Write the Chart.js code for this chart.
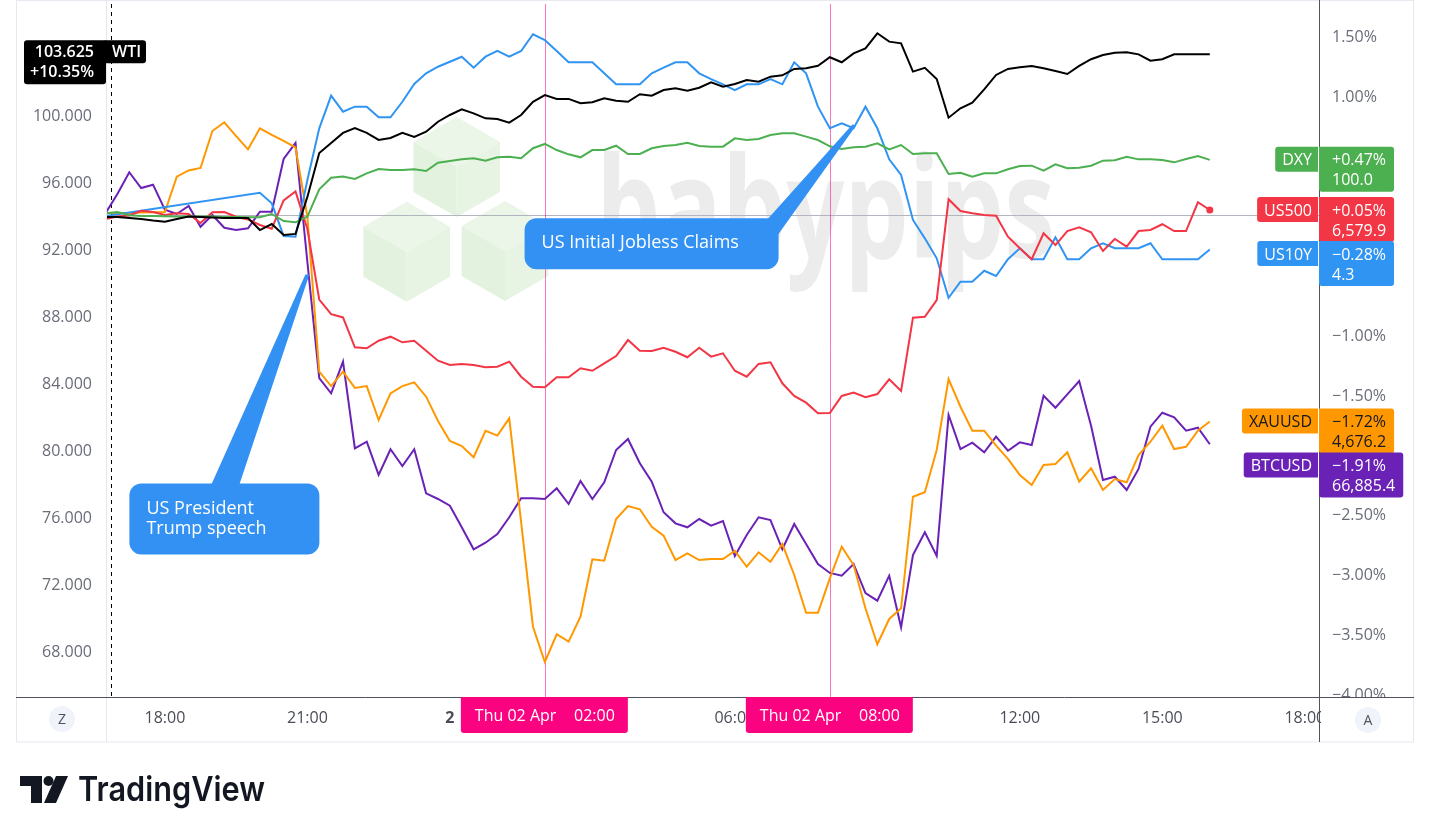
<!DOCTYPE html>
<html>
<head>
<meta charset="utf-8">
<title>WTI vs DXY, US500, US10Y, XAUUSD, BTCUSD</title>
<script src="https://cdn.jsdelivr.net/npm/chart.js@4.4.1/dist/chart.umd.min.js"></script>
<style>
  html, body { margin: 0; padding: 0; background: #fff; overflow: hidden; }
  #wrap { width: 1430px; height: 836px; }
  canvas { display: block; }
</style>
</head>
<body>
<div id="wrap"><canvas id="chart" width="1430" height="836"></canvas></div>
<script>
// 15-minute bars, 1 Apr 16:45 -> 2 Apr 16:00
const times = [
  '16:45', '17:00', '17:15', '17:30', '17:45', '18:00', '18:15', '18:30', '18:45', '19:00',
  '19:15', '19:30', '19:45', '20:00', '20:15', '20:30', '20:45', '21:00', '21:15', '21:30',
  '21:45', '22:00', '22:15', '22:30', '22:45', '23:00', '23:15', '23:30', '23:45', '00:00',
  '00:15', '00:30', '00:45', '01:00', '01:15', '01:30', '01:45', '02:00', '02:15', '02:30',
  '02:45', '03:00', '03:15', '03:30', '03:45', '04:00', '04:15', '04:30', '04:45', '05:00',
  '05:15', '05:30', '05:45', '06:00', '06:15', '06:30', '06:45', '07:00', '07:15', '07:30',
  '07:45', '08:00', '08:15', '08:30', '08:45', '09:00', '09:15', '09:30', '09:45', '10:00',
  '10:15', '10:30', '10:45', '11:00', '11:15', '11:30', '11:45', '12:00', '12:15', '12:30',
  '12:45', '13:00', '13:15', '13:30', '13:45', '14:00', '14:15', '14:30', '14:45', '15:00',
  '15:15', '15:30', '15:45', '16:00'
];

// WTI price (left scale)
const wti = [
  93.905, 93.91, 93.85, 93.79, 93.70, 93.63, 93.79, 93.94, 93.91, 93.88,
  93.85, 93.85, 93.85, 93.13, 93.49, 92.84, 92.90, 95.11, 97.73, 98.33,
  98.93, 99.22, 98.93, 98.51, 98.63, 98.93, 98.69, 99.00, 99.60, 100.00,
  100.34, 100.10, 99.80, 99.76, 99.54, 100.00, 100.79, 101.19, 100.96, 100.96,
  100.70, 100.76, 101.00, 100.85, 100.79, 101.24, 101.15, 101.49, 101.59, 101.45,
  101.63, 101.95, 101.69, 101.85, 102.09, 101.99, 102.29, 102.37, 102.75, 102.79,
  102.94, 103.45, 103.15, 103.68, 103.98, 104.88, 104.38, 104.28, 102.59, 102.82,
  102.15, 99.84, 100.40, 100.73, 101.53, 102.39, 102.75, 102.85, 102.93, 102.79,
  102.63, 102.45, 102.93, 103.33, 103.58, 103.72, 103.74, 103.62, 103.24, 103.33,
  103.62, 103.62, 103.62, 103.625
];

// % change from first bar (right scale)
const dxy = [
  0.023, 0.033, 0.006, 0, 0, -0.003, -0.004, -0.004, -0.004, -0.004,
  -0.008, -0.008, -0.011, -0.011, 0.017, -0.042, -0.053, -0.006, 0.223, 0.320,
  0.331, 0.310, 0.357, 0.393, 0.385, 0.385, 0.391, 0.377, 0.446, 0.460,
  0.474, 0.483, 0.463, 0.491, 0.496, 0.483, 0.567, 0.603, 0.552, 0.516,
  0.491, 0.552, 0.552, 0.588, 0.519, 0.519, 0.567, 0.586, 0.594, 0.613,
  0.586, 0.580, 0.580, 0.650, 0.636, 0.644, 0.678, 0.692, 0.692, 0.664,
  0.636, 0.583, 0.561, 0.575, 0.580, 0.608, 0.558, 0.594, 0.519, 0.525,
  0.525, 0.351, 0.362, 0.329, 0.357, 0.357, 0.391, 0.418, 0.421, 0.379,
  0.433, 0.399, 0.404, 0.421, 0.463, 0.466, 0.496, 0.474, 0.474, 0.469,
  0.449, 0.477, 0.502, 0.47
];

const us500 = [
  -0.025, -0.004, 0.004, 0.044, 0.033, 0.008, 0.023, 0.017, -0.059, 0.031,
  0.033, -0.006, -0.029, -0.075, -0.106, 0.131, 0.205, -0.109, -0.699, -0.822,
  -0.849, -1.099, -1.107, -1.044, -1.010, -1.057, -1.044, -1.127, -1.211, -1.247,
  -1.238, -1.247, -1.266, -1.261, -1.219, -1.345, -1.428, -1.433, -1.350, -1.350,
  -1.274, -1.295, -1.233, -1.172, -1.038, -1.127, -1.130, -1.102, -1.136, -1.182,
  -1.102, -1.177, -1.149, -1.295, -1.345, -1.238, -1.224, -1.400, -1.506, -1.562,
  -1.651, -1.649, -1.506, -1.477, -1.517, -1.490, -1.367, -1.464, -0.851, -0.843,
  -0.703, 0.140, 0.042, 0.023, 0.008, 0.003, -0.173, -0.270, -0.362, -0.145,
  -0.243, -0.126, -0.095, -0.136, -0.293, -0.192, -0.257, -0.126, -0.117, -0.069,
  -0.126, -0.126, 0.115, 0.05
];

const us10y = [
  0, null, null, null, null, null, null, null, null, null,
  null, null, null, 0.195, 0.106, -0.167, -0.173, 0.301, 0.734, 1.007,
  0.873, 0.915, 0.915, 0.826, 0.826, 0.956, 1.105, 1.194, 1.249, 1.291,
  1.333, 1.241, 1.333, 1.381, 1.333, 1.381, 1.521, 1.473, 1.381, 1.286,
  1.286, 1.286, 1.194, 1.102, 1.102, 1.102, 1.194, 1.241, 1.286, 1.286,
  1.194, 1.146, 1.102, 1.054, 1.102, 1.102, 1.146, 1.102, 1.286, 1.194,
  0.915, 0.734, 0.776, 0.734, 0.915, 0.734, 0.474, 0.343, -0.033, -0.187,
  -0.354, -0.684, -0.550, -0.550, -0.458, -0.502, -0.362, -0.270, -0.362, -0.362,
  -0.178, -0.362, -0.362, -0.270, -0.228, -0.270, -0.270, -0.270, -0.228, -0.362,
  -0.362, -0.362, -0.362, -0.28
];

const xauusd = [
  0.023, 0.025, 0.025, 0.029, 0.031, 0.033, 0.329, 0.381, 0.402, 0.711,
  0.784, 0.669, 0.558, 0.734, 0.678, 0.628, 0.575, -0.006, -1.303, -1.423,
  -1.303, -1.439, -1.423, -1.707, -1.484, -1.423, -1.392, -1.512, -1.715, -1.883,
  -1.925, -2.019, -1.797, -1.838, -1.693, -2.561, -3.437, -3.732, -3.500, -3.562,
  -3.353, -2.873, -2.885, -2.536, -2.427, -2.454, -2.600, -2.675, -2.879, -2.823,
  -2.879, -2.870, -2.870, -2.803, -2.935, -2.814, -2.893, -2.745, -3.004, -3.320,
  -3.320, -3.032, -2.767, -2.921, -3.283, -3.584, -3.372, -3.283, -2.349, -2.312,
  -1.958, -1.364, -1.596, -1.797, -1.797, -1.922, -2.033, -2.167, -2.251, -2.084,
  -2.075, -1.977, -2.223, -2.111, -2.293, -2.201, -2.228, -2.000, -1.889, -1.755,
  -1.950, -1.931, -1.797, -1.72
];

const btcusd = [
  0.023, 0.184, 0.366, 0.234, 0.262, 0.053, 0.017, 0.084, -0.090, 0.008,
  -0.098, -0.117, -0.103, 0.036, 0.036, 0.477, 0.611, -0.385, -1.356, -1.484,
  -1.219, -1.944, -1.889, -2.167, -1.952, -2.092, -1.952, -2.321, -2.368, -2.424,
  -2.605, -2.789, -2.734, -2.661, -2.521, -2.362, -2.362, -2.368, -2.279, -2.410,
  -2.218, -2.368, -2.228, -1.958, -1.866, -2.069, -2.223, -2.479, -2.572, -2.605,
  -2.536, -2.592, -2.552, -2.845, -2.669, -2.521, -2.544, -2.789, -2.577, -2.745,
  -2.912, -2.987, -3.010, -2.912, -3.155, -3.219, -3.010, -3.442, -2.837, -2.647,
  -2.845, -1.665, -1.950, -1.897, -1.977, -1.847, -1.964, -1.894, -1.916, -1.504,
  -1.604, -1.492, -1.381, -1.755, -2.209, -2.182, -2.293, -2.117, -1.763, -1.646,
  -1.685, -1.797, -1.772, -1.91
];

const symbols = ['DXY', 'US500', 'US10Y', 'XAUUSD', 'BTCUSD'];
const symbolPrices = ['100.0', '6,579.9', '4.3', '4,676.2', '66,885.4'];

const timeTickHours = [18, 21, 24, 27, 30, 33, 36, 39, 42];
const timeTickLabels = ['18:00', '21:00', '2', '03:00', '06:00', '09:00', '12:00', '15:00', '18:00'];
const wtiTicks = [104, 100, 96, 92, 88, 84, 80, 76, 72, 68];
const pctTicks = [1.5, 1, 0.5, 0, -0.5, -1, -1.5, -2, -2.5, -3, -3.5, -4];

const markers = [
  { hour: 26, day: 'Thu 02 Apr', time: '02:00' },
  { hour: 32, day: 'Thu 02 Apr', time: '08:00' }
];
const sessionBreakHour = 16.87;
const events = [
  { lines: ['US President', 'Trump speech'], hour: 21, pct: -0.49 },
  { lines: ['US Initial Jobless Claims'], hour: 32.5, pct: 0.76 }
];

// hours counted from 1 Apr 00:00
const hours = [];
let dayOffset = 0;
times.forEach((t, i) => {
  const [h, m] = t.split(':').map(Number);
  let v = h + m / 60 + dayOffset;
  if (i > 0 && v < hours[i - 1]) { dayOffset += 24; v += 24; }
  hours.push(v);
});
const toPoints = vals => vals.map((v, i) => ({ x: hours[i], y: v }));

// how the two price scales sit on the pane
const wtiScale = { ref: 100, refPx: 115, pxPerUnit: 16.75 };
const pctScale = { zeroPx: 216, pxPerPct: 119.5 };

const FONT = "'Open Sans', 'Noto Sans', sans-serif";
Chart.defaults.font.family = FONT;
Chart.defaults.font.size = 16;

const pctSeries = [
  { name: 'DXY', values: dxy, color: '#4caf50', text: '#fff' },
  { name: 'US500', values: us500, color: '#f23645', text: '#fff', dot: true },
  { name: 'US10Y', values: us10y, color: '#3094f2', text: '#fff' },
  { name: 'XAUUSD', values: xauusd, color: '#ff9800', text: '#131722' },
  { name: 'BTCUSD', values: btcusd, color: '#6a21b5', text: '#fff' }
];

const CALLOUT_BLUE = '#3291f2';
const PINK = '#fb0380';

function rr(ctx, x, y, w, h, r) {
  const [tl, tr, br, bl] = Array.isArray(r) ? r : [r, r, r, r];
  ctx.beginPath();
  ctx.moveTo(x + tl, y);
  ctx.lineTo(x + w - tr, y);
  ctx.arcTo(x + w, y, x + w, y + tr, tr);
  ctx.lineTo(x + w, y + h - br);
  ctx.arcTo(x + w, y + h, x + w - br, y + h, br);
  ctx.lineTo(x + bl, y + h);
  ctx.arcTo(x, y + h, x, y + h - bl, bl);
  ctx.lineTo(x, y + tl);
  ctx.arcTo(x, y, x + tl, y, tl);
  ctx.closePath();
}

function drawCube(ctx, cx, cy, r) {
  const w = r * Math.sqrt(3) / 2;
  const T = [cx, cy - r], UR = [cx + w, cy - r / 2], LR = [cx + w, cy + r / 2];
  const B = [cx, cy + r], LL = [cx - w, cy + r / 2], UL = [cx - w, cy - r / 2], C = [cx, cy];
  const face = (pts, col) => {
    ctx.beginPath();
    ctx.moveTo(pts[0][0], pts[0][1]);
    pts.slice(1).forEach(p => ctx.lineTo(p[0], p[1]));
    ctx.closePath();
    ctx.fillStyle = col;
    ctx.fill();
  };
  face([T, UR, C, UL], '#ebf6e8');
  face([UL, C, B, LL], '#e3f2df');
  face([C, UR, LR, B], '#e7f4e3');
}

const callouts = [
  { dx: -178, dy: 209, w: 190, h: 71, pointer: [[-96, 210], [-2, 0], [2, 0], [-68, 210]], tx: 17, ty: [25, 45] },
  { dx: -329, dy: 93, w: 254, h: 51, pointer: [[-87, 95], [-1, -1], [2, 1], [-76, 110]], tx: 17, ty: [25] }
];

const overlay = {
  id: 'overlay',
  beforeDatasetsDraw(chart) {
    const { ctx, chartArea: a, scales: { x, yPct } } = chart;
    ctx.save();
    ctx.beginPath();
    ctx.rect(a.left, a.top, a.right - a.left, a.bottom - a.top);
    ctx.clip();

    // watermark
    drawCube(ctx, 456.7, 167, 50);
    drawCube(ctx, 406.7, 251.7, 50);
    drawCube(ctx, 505, 251, 50);
    ctx.fillStyle = 'rgba(0,0,0,0.075)';
    ctx.font = 'bold 140px ' + FONT;
    ctx.textBaseline = 'alphabetic';
    const ww = ctx.measureText('babypips').width;
    ctx.save();
    ctx.translate(596, 258);
    ctx.scale(459 / ww, 1);
    ctx.fillText('babypips', 0, 0);
    ctx.restore();

    // zero line
    const y0 = Math.round(yPct.getPixelForValue(0)) - 0.5;
    ctx.strokeStyle = '#b2b5be';
    ctx.lineWidth = 1;
    ctx.beginPath(); ctx.moveTo(a.left, y0); ctx.lineTo(a.right, y0); ctx.stroke();

    // vertical marker lines
    ctx.strokeStyle = 'rgba(251,3,128,0.55)';
    markers.forEach(m => {
      const px = Math.round(x.getPixelForValue(m.hour)) + 0.5;
      ctx.beginPath(); ctx.moveTo(px, a.top); ctx.lineTo(px, a.bottom); ctx.stroke();
    });

    // session break
    const sx = Math.round(x.getPixelForValue(sessionBreakHour)) + 0.5;
    ctx.strokeStyle = '#000';
    ctx.setLineDash([4, 4]);
    ctx.beginPath(); ctx.moveTo(sx, a.top); ctx.lineTo(sx, a.bottom); ctx.stroke();
    ctx.setLineDash([]);
    ctx.restore();
  },
  afterDraw(chart) {
    const { ctx, chartArea: a, scales: { x, y, yPct } } = chart;
    ctx.save();

    // callouts
    events.forEach((ev, k) => {
      const c = callouts[k];
      const tipX = x.getPixelForValue(ev.hour), tipY = yPct.getPixelForValue(ev.pct);
      ctx.fillStyle = CALLOUT_BLUE;
      rr(ctx, tipX + c.dx, tipY + c.dy, c.w, c.h, 12);
      ctx.fill();
      ctx.beginPath();
      c.pointer.forEach((p, i) => i ? ctx.lineTo(tipX + p[0], tipY + p[1]) : ctx.moveTo(tipX + p[0], tipY + p[1]));
      ctx.closePath();
      ctx.fill();
      ctx.fillStyle = '#fff';
      ctx.font = '18px ' + FONT;
      ctx.textAlign = 'left';
      ctx.textBaseline = 'middle';
      ev.lines.forEach((ln, i) => ctx.fillText(ln, tipX + c.dx + c.tx, tipY + c.dy + c.ty[i]));
    });

    // frame and axis lines
    ctx.fillStyle = '#fff';
    ctx.fillRect(a.right + 1, a.bottom + 1, 1414 - a.right - 1, 44);
    ctx.strokeStyle = '#e6e9ef';
    ctx.lineWidth = 1;
    ctx.strokeRect(16.5, 0.5, 1397, 741.5);
    ctx.beginPath(); ctx.moveTo(a.left + 0.5, 0); ctx.lineTo(a.left + 0.5, 742); ctx.stroke();
    ctx.strokeStyle = '#50535e';
    ctx.beginPath(); ctx.moveTo(16, a.bottom + 0.5); ctx.lineTo(1414, a.bottom + 0.5); ctx.stroke();
    ctx.beginPath(); ctx.moveTo(a.right - 0.5, 0); ctx.lineTo(a.right - 0.5, 742); ctx.stroke();

    // Z / A buttons
    [[62, 719, 'Z'], [1368, 720, 'A']].forEach(([cx, cy, t]) => {
      ctx.fillStyle = '#f0f3fa';
      ctx.beginPath(); ctx.arc(cx, cy, 13, 0, Math.PI * 2); ctx.fill();
      ctx.fillStyle = '#50535e';
      ctx.font = '14px ' + FONT;
      ctx.textAlign = 'center';
      ctx.textBaseline = 'middle';
      ctx.fillText(t, cx, cy + 1);
    });

    // marker time boxes
    markers.forEach(m => {
      const px = x.getPixelForValue(m.hour);
      const bx = px - 84, bw = 167;
      ctx.fillStyle = PINK;
      rr(ctx, bx, a.bottom, bw, 36, [0, 0, 3, 3]);
      ctx.fill();
      ctx.fillStyle = '#fff';
      ctx.font = '16px ' + FONT;
      ctx.textBaseline = 'middle';
      ctx.textAlign = 'left';
      ctx.fillText(m.day, bx + 14, a.bottom + 19);
      ctx.textAlign = 'right';
      ctx.fillText(m.time, bx + bw - 13, a.bottom + 19);
    });

    // right-side symbol labels
    ctx.font = '16px ' + FONT;
    const items = pctSeries.map((s, k) => {
      const last = s.values[s.values.length - 1];
      return { s, price: symbolPrices[k], pct: last, py: yPct.getPixelForValue(last) };
    }).sort((p, q) => p.py - q.py);
    let prevBottom = -Infinity;
    items.forEach(it => {
      const top = Math.max(it.py - 13, prevBottom - 1);
      prevBottom = top + 45;
      const pctText = (it.pct >= 0 ? '+' : '\u2212') + Math.abs(it.pct).toFixed(2) + '%';
      const vw = Math.max(ctx.measureText(pctText).width, ctx.measureText(it.price).width) + 21;
      const nw = ctx.measureText(it.s.name).width + 13;
      ctx.fillStyle = it.s.color;
      rr(ctx, a.right - 1, top, vw, 45, [0, 3, 3, 3]);
      ctx.fill();
      rr(ctx, a.right - 2 - nw, top, nw, 25, [3, 0, 0, 3]);
      ctx.fill();
      ctx.fillStyle = it.s.text;
      ctx.textBaseline = 'middle';
      ctx.textAlign = 'left';
      ctx.fillText(pctText, a.right + 12, top + 14);
      ctx.fillText(it.price, a.right + 12, top + 34);
      ctx.textAlign = 'right';
      ctx.fillText(it.s.name, a.right - 8, top + 14);
    });

    // WTI label
    const wLast = wti[wti.length - 1];
    const wTop = y.getPixelForValue(wLast) - 14;
    const wPct = (wLast / wti[0] - 1) * 100;
    ctx.fillStyle = '#000';
    rr(ctx, 24, wTop, 82, 44, [3, 0, 3, 3]);
    ctx.fill();
    rr(ctx, 105, wTop, 41, 23, [0, 3, 3, 0]);
    ctx.fill();
    ctx.fillStyle = '#fff';
    ctx.font = '600 16px ' + FONT;
    ctx.textBaseline = 'middle';
    ctx.textAlign = 'right';
    ctx.fillText(wLast.toFixed(3), 94, wTop + 12);
    ctx.fillText('+' + wPct.toFixed(2) + '%', 94, wTop + 32);
    ctx.textAlign = 'left';
    ctx.fillText('WTI', 112, wTop + 12);

    // TradingView logo
    ctx.fillStyle = '#131722';
    ctx.fillRect(20, 776, 22, 10);
    ctx.fillRect(31, 776, 11, 27);
    ctx.beginPath(); ctx.arc(48.5, 781, 5, 0, Math.PI * 2); ctx.fill();
    ctx.beginPath();
    ctx.moveTo(56, 776); ctx.lineTo(68, 776); ctx.lineTo(56, 803); ctx.lineTo(44, 803);
    ctx.closePath(); ctx.fill();
    ctx.font = '600 34px Inter, ' + FONT;
    ctx.textAlign = 'left';
    ctx.textBaseline = 'alphabetic';
    const tw = ctx.measureText('TradingView').width;
    ctx.save();
    ctx.translate(78, 801);
    ctx.scale(187 / tw, 1);
    ctx.fillText('TradingView', 0, 0);
    ctx.restore();

    ctx.restore();
  }
};

const chart = new Chart(document.getElementById('chart'), {
  type: 'line',
  data: {
    datasets: [
      {
        label: 'WTI', data: toPoints(wti), yAxisID: 'y',
        borderColor: '#000', borderWidth: 2, pointRadius: 0, tension: 0
      },
      ...pctSeries.map(s => ({
        label: s.name, data: toPoints(s.values), yAxisID: 'yPct',
        borderColor: s.color, backgroundColor: s.color, borderWidth: 2, tension: 0, spanGaps: true,
        pointRadius: s.dot ? (c => (c.dataIndex === s.values.length - 1 ? 3.5 : 0)) : 0,
        pointBorderWidth: 0
      }))
    ]
  },
  options: {
    responsive: false,
    animation: false,
    events: [],
    layout: { padding: { top: 0, left: 0, right: 0, bottom: 94 } },
    plugins: { legend: { display: false }, tooltip: { enabled: false } },
    scales: {
      x: {
        type: 'linear', min: 16.76, max: 42.32,
        grid: { display: false, drawTicks: false }, border: { display: false },
        afterBuildTicks: s => { s.ticks = timeTickHours.map(v => ({ value: v })); },
        afterFit: s => { s.height = 45; s.paddingLeft = 0; s.paddingRight = 0; },
        ticks: {
          padding: 12, color: '#4a4d57', maxRotation: 0, autoSkip: false,
          font: c => (c.tick && c.tick.value === 24 ? { size: 16, weight: 'bold' } : { size: 16 }),
          callback: (v, i) => timeTickLabels[i]
        }
      },
      y: {
        position: 'left', min: 65.254, max: 106.866,
        grid: { display: false, drawTicks: false }, border: { display: false },
        afterBuildTicks: s => { s.ticks = wtiTicks.map(v => ({ value: v })); },
        afterFit: s => { s.width = 106; s.paddingTop = 0; s.paddingBottom = 0; },
        ticks: { padding: 14, labelOffset: 1, color: '#6a6d78', autoSkip: false, callback: v => v.toFixed(3) }
      },
      yPct: {
        position: 'right', min: -4.025, max: 1.8075,
        grid: { display: false, drawTicks: false }, border: { display: false },
        afterBuildTicks: s => { s.ticks = pctTicks.map(v => ({ value: v })); },
        afterFit: s => { s.width = 110; s.paddingTop = 0; s.paddingBottom = 0; },
        ticks: {
          padding: 12, labelOffset: 1, color: '#6a6d78', autoSkip: false,
          callback: v => (v < 0 ? '\u2212' : '') + Math.abs(v).toFixed(2) + '%'
        }
      }
    }
  },
  plugins: [overlay]
});

// fit the scale limits to the pane that Chart.js actually laid out
const area = chart.chartArea;
chart.options.scales.y.max = wtiScale.ref + (wtiScale.refPx - area.top) / wtiScale.pxPerUnit;
chart.options.scales.y.min = wtiScale.ref - (area.bottom - wtiScale.refPx) / wtiScale.pxPerUnit;
chart.options.scales.yPct.max = (pctScale.zeroPx - area.top) / pctScale.pxPerPct;
chart.options.scales.yPct.min = (pctScale.zeroPx - area.bottom) / pctScale.pxPerPct;
chart.update();
</script>
</body>
</html>
